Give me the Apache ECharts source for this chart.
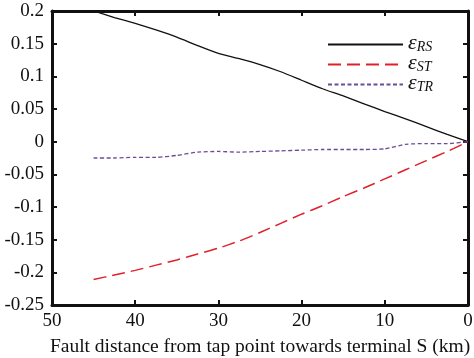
<!DOCTYPE html>
<html>
<head>
<meta charset="utf-8">
<script src="https://cdn.jsdelivr.net/npm/echarts@6/dist/echarts.min.js"></script>
<style>html,body{margin:0;padding:0;background:#fff}#c{width:474px;height:358px}</style>
</head>
<body>
<div id="c"></div>
<script>
const distance = [45, 42.5, 40, 37.5, 35, 32.5, 30, 27.5, 25, 22.5, 20, 17.5, 15, 12.5, 10, 7.5, 5, 2.5, 0];
const epsRS = [0.200, 0.190, 0.181, 0.171, 0.160, 0.147, 0.135, 0.127, 0.118, 0.107, 0.094, 0.081, 0.070, 0.058, 0.046, 0.035, 0.023, 0.011, 0];
const epsST = [-0.211, -0.204, -0.197, -0.189, -0.181, -0.172, -0.163, -0.152, -0.139, -0.125, -0.111, -0.098, -0.084, -0.071, -0.057, -0.043, -0.029, -0.015, 0];
const epsTR = [-0.025, -0.025, -0.024, -0.024, -0.021, -0.016, -0.015, -0.016, -0.015, -0.014, -0.013, -0.012, -0.012, -0.012, -0.011, -0.004, -0.003, -0.003, 0];
const seriesNames = ['εRS', 'εST', 'εTR'];
const legendSub = {'εRS': 'RS', 'εST': 'ST', 'εTR': 'TR'};
const xTitle = 'Fault distance from tap point towards terminal S (km)';

const pairs = arr => distance.map((d, i) => [d, arr[i]]);
const font = 'Liberation Serif';
const axisLine = {show: true, onZero: false, lineStyle: {color: '#111', width: 3}};
const tick = {show: true, inside: true, length: 5, lineStyle: {color: '#111', width: 2}};

const chart = echarts.init(document.getElementById('c'));
chart.setOption({
  animation: false,
  backgroundColor: '#fff',
  grid: {left: 52, right: 6, top: 11, bottom: 53, containLabel: false, outerBoundsMode: 'none'},
  legend: {
    orient: 'vertical', left: 327, top: 32, padding: 0, itemWidth: 75, itemHeight: 14, itemGap: -2,
    data: seriesNames,
    itemStyle: {opacity: 0, borderWidth: 0},
    formatter: n => '{e|ε}{s|' + legendSub[n] + '}',
    textStyle: {
      fontFamily: font, color: '#111',
      rich: {
        e: {fontSize: 22, fontStyle: 'italic', fontFamily: font, color: '#111', lineHeight: 19, verticalAlign: 'bottom'},
        s: {fontSize: 14, fontStyle: 'italic', fontFamily: font, color: '#111', lineHeight: 12, verticalAlign: 'bottom'}
      }
    }
  },
  xAxis: [{
    type: 'value', min: 0, max: 50, interval: 10, inverse: true, position: 'bottom',
    axisLine: axisLine, axisTick: tick, splitLine: {show: false},
    axisLabel: {fontFamily: font, fontSize: 19, color: '#111', margin: 7},
    name: xTitle, nameLocation: 'middle', nameGap: 32,
    nameTextStyle: {fontFamily: font, fontSize: 19.5, color: '#111'}
  }, {
    type: 'value', min: 0, max: 50, interval: 10, inverse: true, position: 'top',
    axisLine: axisLine, axisTick: tick, splitLine: {show: false}, axisLabel: {show: false}
  }],
  yAxis: [{
    type: 'value', min: -0.25, max: 0.2, interval: 0.05, position: 'left',
    axisLine: axisLine, axisTick: tick, splitLine: {show: false},
    axisLabel: {fontFamily: font, fontSize: 19, color: '#111', margin: 8,
      formatter: v => String(Math.round(v * 100) / 100)}
  }, {
    type: 'value', min: -0.25, max: 0.2, interval: 0.05, position: 'right',
    axisLine: axisLine, axisTick: tick, splitLine: {show: false}, axisLabel: {show: false}
  }],
  series: [
    {name: seriesNames[0], type: 'line', data: pairs(epsRS), symbol: 'none', smooth: 0.2,
      lineStyle: {color: '#111', width: 1.3, type: 'solid'}, itemStyle: {color: '#111'}},
    {name: seriesNames[1], type: 'line', data: pairs(epsST), symbol: 'none', smooth: 0.2,
      lineStyle: {color: '#e0202a', width: 1.5, type: [13, 6]}, itemStyle: {color: '#e0202a'}},
    {name: seriesNames[2], type: 'line', data: pairs(epsTR), symbol: 'none', smooth: 0.2,
      lineStyle: {color: '#6a4d96', width: 1.3, type: [4, 2.5]}, itemStyle: {color: '#6a4d96'}}
  ]
});
</script>
</body>
</html>
